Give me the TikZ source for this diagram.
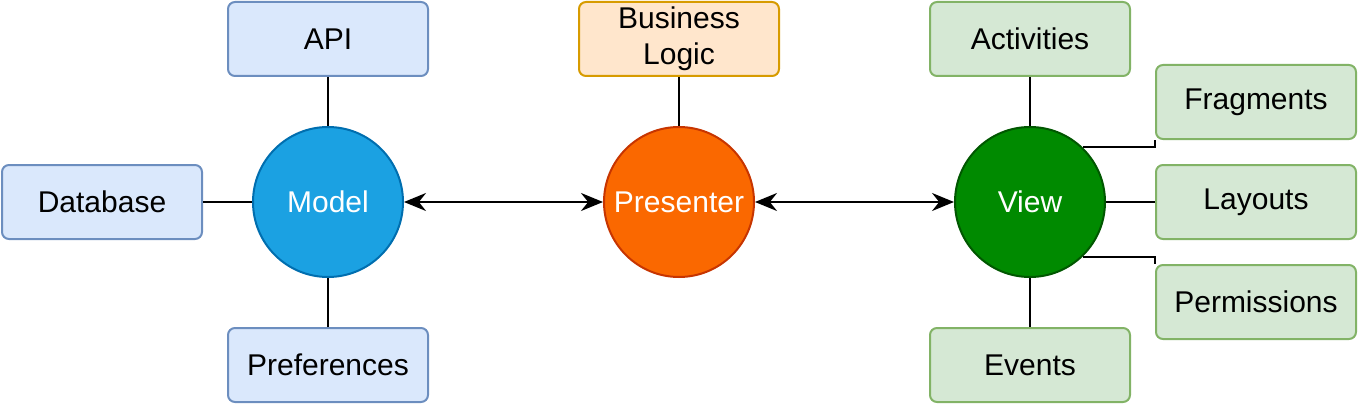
\documentclass[tikz,border=0pt]{standalone}
\usepackage{fontspec}
\setmainfont{Liberation Sans}
\usetikzlibrary{arrows.meta}
\definecolor{bfill}{HTML}{DAE8FC}\definecolor{bdraw}{HTML}{6C8EBF}
\definecolor{gfill}{HTML}{D5E8D4}\definecolor{gdraw}{HTML}{82B366}
\definecolor{ofill}{HTML}{FFE6CC}\definecolor{odraw}{HTML}{D79B00}
\definecolor{mfill}{HTML}{1BA1E2}\definecolor{mdraw}{HTML}{006EAF}
\definecolor{pfill}{HTML}{FA6800}\definecolor{pdraw}{HTML}{C73500}
\definecolor{vfill}{HTML}{008A00}\definecolor{vdraw}{HTML}{005700}
\begin{document}
\begin{tikzpicture}[x=1pt,y=-1pt,
 box/.style={draw, line width=2pt, rounded corners=7pt, minimum width=200pt, minimum height=74pt, font=\fontsize{30}{35}\selectfont, align=center, inner sep=0pt},
 bbox/.style={box, fill=bfill, draw=bdraw},
 gbox/.style={box, fill=gfill, draw=gdraw},
 obox/.style={box, fill=ofill, draw=odraw},
 circ/.style={circle, line width=2pt, minimum size=150pt, inner sep=0pt, text=white, font=\fontsize{30}{35}\selectfont},
 link/.style={line width=2pt},
 arr/.style={line width=2pt, {Stealth[length=22pt,width=18pt]}-{Stealth[length=22pt,width=18pt]}}]
\useasboundingbox (0,0) rectangle (1358,404);
\node[circ, fill=mfill, draw=mdraw] (model) at (328,202) {Model};
\node[circ, fill=pfill, draw=pdraw] (pres) at (679,202) {Presenter};
\node[circ, fill=vfill, draw=vdraw] (view) at (1030,202) {View};
\node[bbox] (api) at (328,39) {API};
\node[bbox] (db) at (102,202) {Database};
\node[bbox] (pref) at (328,365) {Preferences};
\node[obox] (bl) at (679,39) {Business\\[1pt]Logic};
\node[gbox] (act) at (1030,39) {Activities};
\node[gbox] (frag) at (1256,102) {Fragments};
\node[gbox] (lay) at (1256,202) {Layouts};
\node[gbox] (perm) at (1256,302) {Permissions};
\node[gbox] (ev) at (1030,365) {Events};
\draw[link] (api) -- (model);
\draw[link] (db) -- (model);
\draw[link] (pref) -- (model);
\draw[link] (bl) -- (pres);
\draw[link] (act) -- (view);
\draw[link] (ev) -- (view);
\draw[link] (lay) -- (view);
\draw[link] (view.46) -- (frag.south west |- view.46) -- (frag.south west);
\draw[link] (view.-46) -- (perm.north west |- view.-46) -- (perm.north west);
\draw[arr] (model) -- (pres);
\draw[arr] (pres) -- (view);
\end{tikzpicture}
\end{document}
